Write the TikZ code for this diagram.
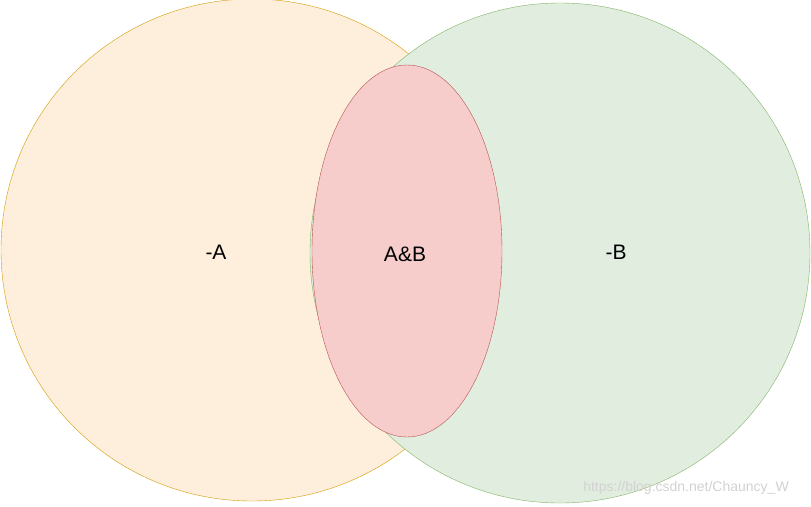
\documentclass[tikz,border=0pt]{standalone}
\usepackage{fontspec}
\setmainfont{Liberation Sans}
\definecolor{ofill}{HTML}{FDEFDC}\definecolor{oline}{HTML}{D79B00}
\definecolor{gfill}{HTML}{E1EEDF}\definecolor{gline}{HTML}{82B366}
\definecolor{rfill}{HTML}{F6CDCB}\definecolor{rline}{HTML}{B85450}
\begin{document}
\begin{tikzpicture}[x=1pt,y=-1pt,every node/.style={font=\fontsize{21}{24}\selectfont}]
\useasboundingbox (0,0) rectangle (811,506);
\fill[white] (0,0) rectangle (811,506);
\draw[oline,fill=ofill] (252,250) circle (251);
\draw[gline,fill=gfill] (560,253) circle (250);
\draw[rline,fill=rfill] (407,251) ellipse [x radius=95,y radius=186];
\node (a) at (216,252) {-A};
\node (ab) at (405,254) {A\&B};
\node (b) at (616,252) {-B};
\node[text=gray!35,font=\fontsize{14}{16}\selectfont] (w) at (686,488) {https://blog.csdn.net/Chauncy\_W};
\end{tikzpicture}
\end{document}
